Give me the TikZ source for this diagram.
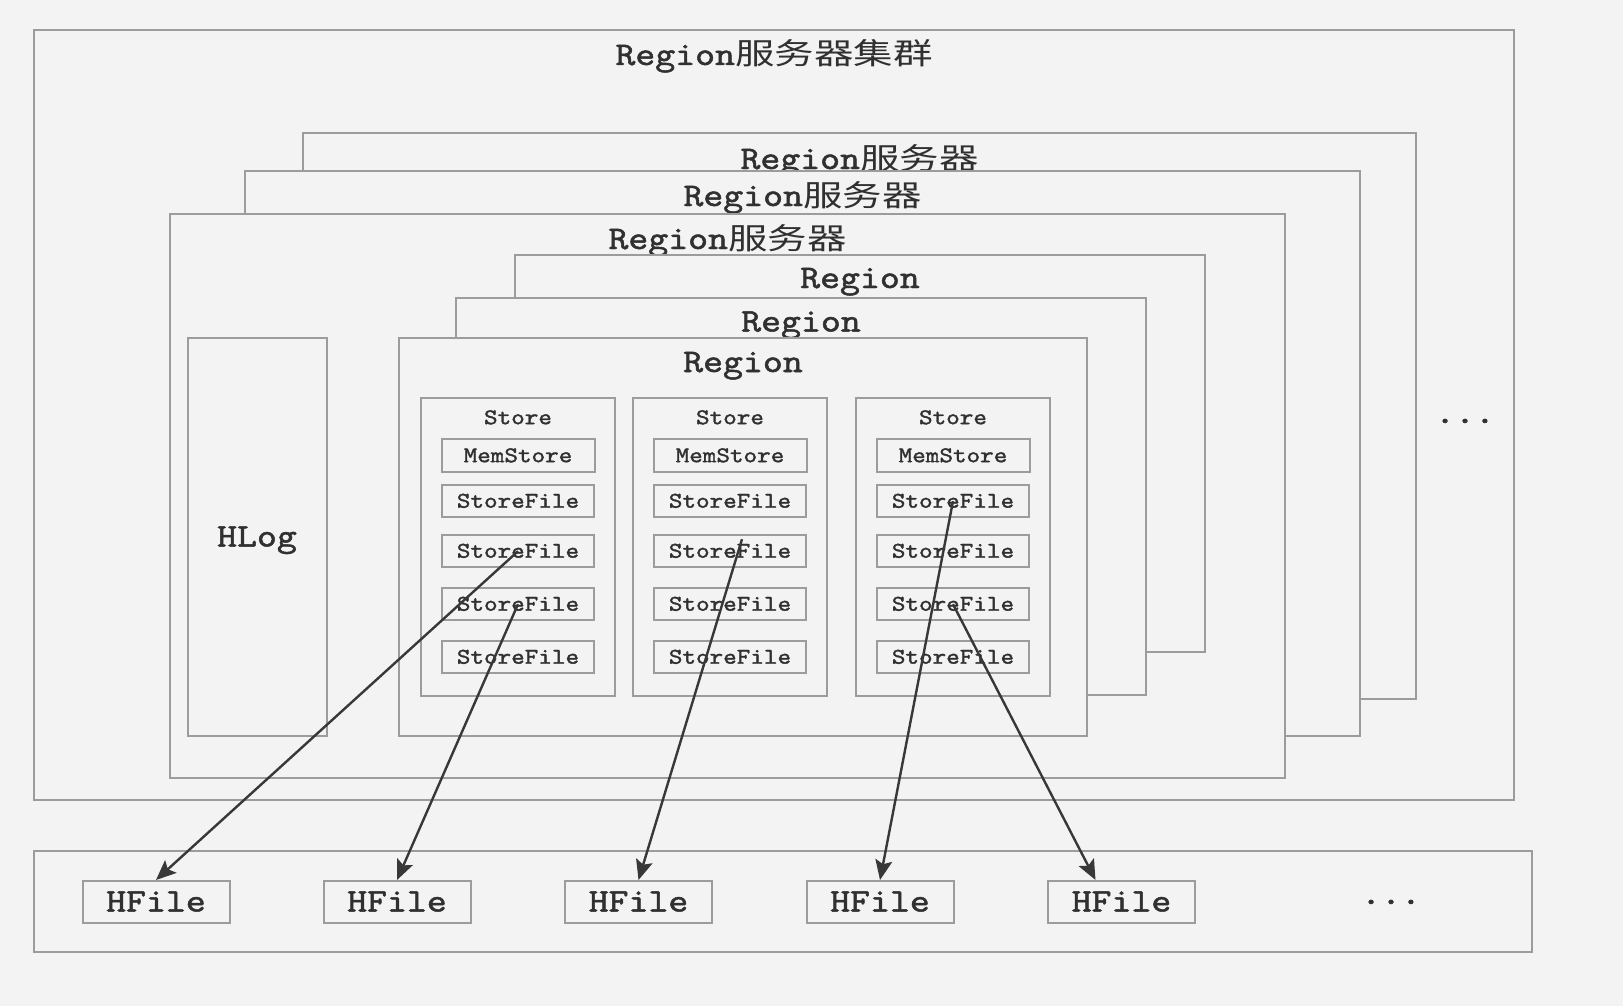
\documentclass[tikz,border=0pt]{standalone}
\usepackage{fontspec}
\setmainfont{lmmono10-regular}[Extension=.otf,FakeStretch=1.15,FakeBold=1.5]
\newfontfamily\cjk[Scale=0.9,FakeStretch=1.33]{Noto Sans CJK SC}
\usetikzlibrary{matrix,arrows.meta}
\definecolor{bgc}{HTML}{F3F3F3}
\definecolor{boxline}{HTML}{9C9C9C}
\definecolor{arrowc}{HTML}{383838}
\definecolor{txt}{HTML}{303030}

\begin{document}
\begin{tikzpicture}[x=1pt,y=-1pt,
	box/.style={draw=boxline,line width=2pt,fill=bgc,inner sep=0pt},
	big/.style={font=\fontsize{33}{40}\selectfont,text=txt},
	small/.style={font=\fontsize{22.5}{27}\selectfont,text=txt},
	item/.style={box,small,minimum width=152,minimum height=32,text height=13,text depth=0},
	storecol/.style={matrix of nodes,matrix anchor=north,inner sep=0pt,row sep=11pt,
		nodes={item},
		row 1/.style={nodes={draw=none,minimum width=0pt,minimum height=0pt}},
		row 2/.style={nodes={minimum width=153,minimum height=33}}},
	link/.style={draw=arrowc,line width=2.4pt,-{Stealth[length=20pt,width=17pt,inset=4pt]}}
	]
	\fill[bgc] (0,0) rectangle (1623,1006);
	\useasboundingbox (0,0) rectangle (1623,1006);
	% cluster
	\node[box,minimum width=1480,minimum height=770] (cluster) at (774,415) {};
	\node[big,anchor=base] (clustertitle) at ([yshift=-36pt]cluster.north) {Region{\cjk 服务器集群}};
	\node[big,anchor=base] (moresrv) at (1465,423) {...};
	% region servers, back to front
	\node[box,minimum width=1113,minimum height=566] (srv3) at (859.5,416) {};
	\node[big,anchor=base] (srv3title) at ([yshift=-37pt]srv3.north) {Region{\cjk 服务器}};
	\node[box,minimum width=1115,minimum height=565] (srv2) at (802.5,453.5) {};
	\node[big,anchor=base] (srv2title) at ([yshift=-36pt]srv2.north) {Region{\cjk 服务器}};
	\node[box,minimum width=1115,minimum height=564] (srv1) at (727.5,496) {};
	\node[big,anchor=base] (srv1title) at ([yshift=-36pt]srv1.north) {Region{\cjk 服务器}};
	% regions, back to front
	\node[box,minimum width=690,minimum height=397] (reg3) at (860,453.5) {};
	\node[big,anchor=base] (reg3title) at ([yshift=-34pt]reg3.north) {Region};
	\node[box,minimum width=690,minimum height=397] (reg2) at (801,496) {};
	\node[big,anchor=base] (reg2title) at ([yshift=-35pt]reg2.north) {Region};
	\node[box,minimum width=688,minimum height=398] (reg1) at (743,537) {};
	\node[big,anchor=base] (reg1title) at ([yshift=-35pt]reg1.north) {Region};
	\node[box,big,minimum width=139,minimum height=398,text height=19,text depth=0] (hlog) at (257,537) {HLog};
	% stores
	\node[box,minimum width=194,minimum height=298] (st1) at (518,547) {};
	\node[box,minimum width=194,minimum height=298] (st2) at (730,547) {};
	\node[box,minimum width=194,minimum height=298] (st3) at (953,547) {};
	\matrix[storecol] (m1) at ([yshift=-14pt]st1.north)
	{
		Store \\[3pt]
		MemStore \\
		StoreFile \\[5pt]
		StoreFile \\[8pt]
		StoreFile \\[8pt]
		StoreFile \\
	};
	\matrix[storecol] (m2) at ([yshift=-14pt]st2.north)
	{
		Store \\[3pt]
		MemStore \\
		StoreFile \\[5pt]
		StoreFile \\[8pt]
		StoreFile \\[8pt]
		StoreFile \\
	};
	\matrix[storecol] (m3) at ([yshift=-14pt]st3.north)
	{
		Store \\[3pt]
		MemStore \\
		StoreFile \\[5pt]
		StoreFile \\[8pt]
		StoreFile \\[8pt]
		StoreFile \\
	};
	% hfiles
	\node[box,minimum width=1498,minimum height=101] (hdfs) at (783,901.5) {};
	\node[box,big,minimum width=147,minimum height=42,text height=19,text depth=0] (hf1) at (156,902) {HFile};
	\node[box,big,minimum width=147,minimum height=42,text height=19,text depth=0] (hf2) at (397,902) {HFile};
	\node[box,big,minimum width=147,minimum height=42,text height=19,text depth=0] (hf3) at (638.5,902) {HFile};
	\node[box,big,minimum width=147,minimum height=42,text height=19,text depth=0] (hf4) at (880,902) {HFile};
	\node[box,big,minimum width=147,minimum height=42,text height=19,text depth=0] (hf5) at (1121.5,902) {HFile};
	\node[big,anchor=base] (morehf) at (1391,904) {...};
	% storefiles to hfiles
	\draw[link] (m1-4-1.center) -- (hf1.north);
	\draw[link] (m1-5-1.center) -- (hf2.north);
	\draw[link] ([shift={(12,-12)}]m2-4-1.center) -- (hf3.north);
	\draw[link] (m3-3-1.center) -- (hf4.north);
	\draw[link] (m3-5-1.center) -- ([xshift=-26pt]hf5.north);
\end{tikzpicture}
\end{document}
